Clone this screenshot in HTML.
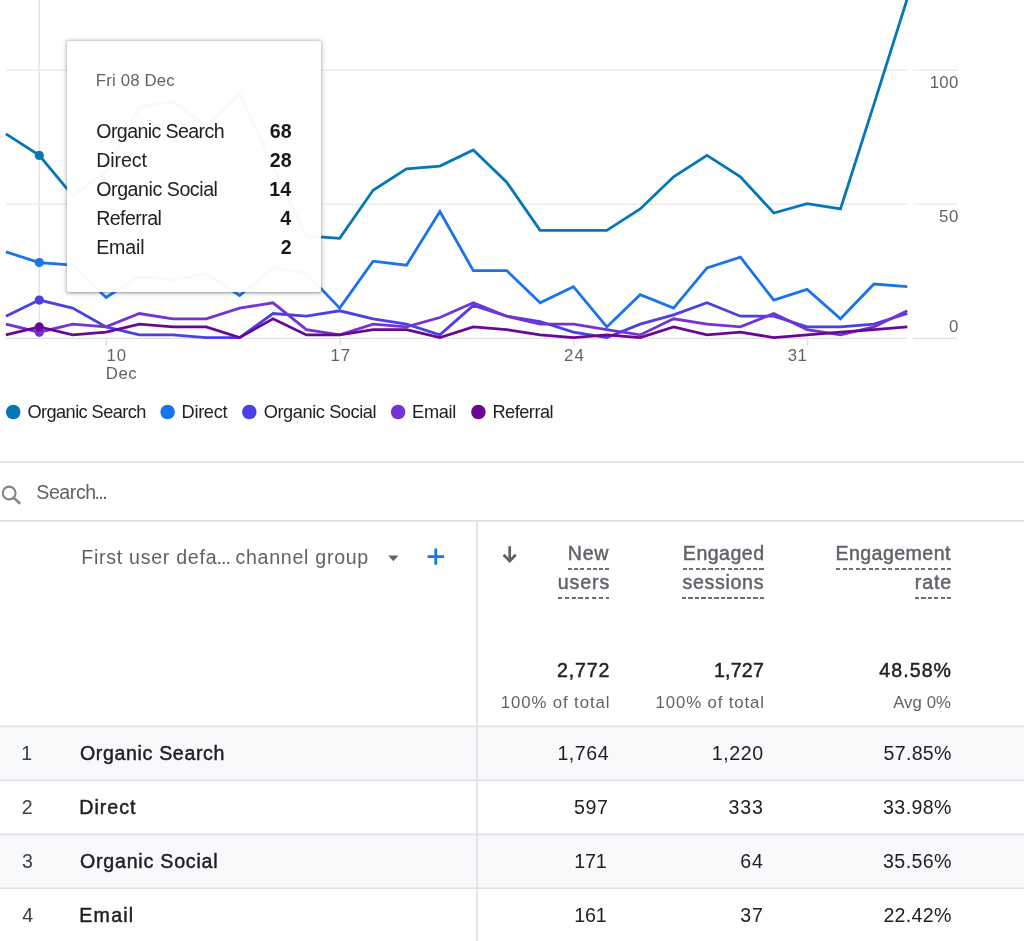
<!DOCTYPE html>
<html><head><meta charset="utf-8"><title>Report</title><style>
html,body{margin:0;padding:0;background:#fff;}
body{width:1024px;height:941px;position:relative;overflow:hidden;font-family:"Liberation Sans",sans-serif;}
#wrap{position:absolute;left:0;top:0;width:1024px;height:941px;will-change:transform;}
.t{position:absolute;white-space:nowrap;line-height:1;}
.chart{position:absolute;left:0;top:0;}
.tip{position:absolute;left:67px;top:40.5px;width:254px;height:251px;background:rgba(255,255,255,0.96);box-shadow:0 0.3px 2.6px 0 rgba(60,64,67,0.42),0 0.6px 4.6px 1.2px rgba(60,64,67,0.16);border-radius:2px;}
.dot{position:absolute;width:14.8px;height:14.8px;border-radius:50%;}
.hl{position:absolute;left:0;width:1024px;height:1.7px;background:#dfe1e6;}
.vl{position:absolute;left:476.25px;top:520px;width:1.7px;height:207px;background:#e1e3e8;}
.vl2{position:absolute;left:476.25px;top:726px;width:1.7px;height:215px;background:#e1e3e8;}
.row{position:absolute;left:0;width:1024px;height:54px;}
.dash{position:absolute;height:2px;}
</style></head><body>
<div id="wrap">
<svg class="chart" width="1024" height="400" viewBox="0 0 1024 400">
<line x1="39.3" y1="0" x2="39.3" y2="338" stroke="#e6e6ea" stroke-width="1.6"/>
<line x1="6" y1="70.2" x2="907.3" y2="70.2" stroke="#ebebee" stroke-width="1.4"/>
<line x1="913" y1="70.2" x2="957.3" y2="70.2" stroke="#ebebee" stroke-width="1.4"/>
<line x1="6" y1="204.2" x2="907.3" y2="204.2" stroke="#ebebee" stroke-width="1.4"/>
<line x1="913" y1="204.2" x2="957.3" y2="204.2" stroke="#ebebee" stroke-width="1.4"/>
<line x1="6" y1="338.4" x2="907.3" y2="338.4" stroke="#e0e0e0" stroke-width="1.4"/>
<line x1="913" y1="338.4" x2="957.3" y2="338.4" stroke="#e0e0e0" stroke-width="1.4"/>
<line x1="106.5" y1="338.4" x2="106.5" y2="345.6" stroke="#e0e0e0" stroke-width="1.4"/>
<line x1="340.2" y1="338.4" x2="340.2" y2="345.6" stroke="#e0e0e0" stroke-width="1.4"/>
<line x1="573.8" y1="338.4" x2="573.8" y2="345.6" stroke="#e0e0e0" stroke-width="1.4"/>
<line x1="807.6" y1="338.4" x2="807.6" y2="345.6" stroke="#e0e0e0" stroke-width="1.4"/>
<polyline points="5.9,133.9 39.3,155.4 72.7,195.6 106.1,171.4 139.4,107.1 172.8,101.8 206.2,125.9 239.6,93.7 273.0,166.1 306.4,235.8 339.7,238.4 373.1,190.2 406.5,168.8 439.9,166.1 473.3,150.0 506.7,182.2 540.1,230.4 573.4,230.4 606.8,230.4 640.2,209.0 673.6,176.8 707.0,155.4 740.4,176.8 773.8,213.0 807.1,203.6 840.5,209.0 873.9,104.4 907.3,-1.4" fill="none" stroke="#0477b6" stroke-width="2.8" stroke-linejoin="miter" stroke-linecap="butt"/>
<polyline points="5.9,251.8 39.3,262.6 72.7,265.2 106.1,297.4 139.4,276.0 172.8,280.0 206.2,273.3 239.6,295.5 273.0,267.9 306.4,273.3 339.7,308.1 373.1,261.2 406.5,265.2 439.9,211.6 473.3,270.6 506.7,270.6 540.1,302.8 573.4,286.7 606.8,326.9 640.2,294.7 673.6,308.1 707.0,267.9 740.4,257.2 773.8,300.1 807.1,289.4 840.5,318.8 873.9,284.0 907.3,286.7" fill="none" stroke="#1a73e8" stroke-width="2.8" stroke-linejoin="miter" stroke-linecap="butt"/>
<polyline points="5.9,316.2 39.3,300.1 72.7,308.1 106.1,326.9 139.4,334.9 172.8,334.9 206.2,337.6 239.6,337.6 273.0,313.5 306.4,316.2 339.7,310.8 373.1,318.8 406.5,324.2 439.9,334.9 473.3,305.4 506.7,316.2 540.1,321.5 573.4,332.2 606.8,337.6 640.2,324.2 673.6,314.8 707.0,302.8 740.4,316.2 773.8,316.2 807.1,326.9 840.5,326.9 873.9,324.2 907.3,313.5" fill="none" stroke="#4b40e6" stroke-width="2.8" stroke-linejoin="miter" stroke-linecap="butt"/>
<polyline points="5.9,324.2 39.3,332.2 72.7,324.2 106.1,326.9 139.4,313.5 172.8,318.8 206.2,318.8 239.6,308.1 273.0,302.8 306.4,329.6 339.7,334.9 373.1,324.2 406.5,326.9 439.9,317.5 473.3,302.8 506.7,316.2 540.1,324.2 573.4,324.2 606.8,329.6 640.2,334.9 673.6,318.8 707.0,324.2 740.4,326.9 773.8,313.5 807.1,329.6 840.5,334.9 873.9,326.9 907.3,310.8" fill="none" stroke="#7433d2" stroke-width="2.8" stroke-linejoin="miter" stroke-linecap="butt"/>
<polyline points="5.9,334.9 39.3,326.9 72.7,334.9 106.1,332.2 139.4,324.2 172.8,326.9 206.2,326.9 239.6,337.6 273.0,318.8 306.4,334.9 339.7,334.9 373.1,329.6 406.5,329.6 439.9,337.6 473.3,326.9 506.7,329.6 540.1,334.9 573.4,337.6 606.8,334.9 640.2,337.6 673.6,326.9 707.0,334.9 740.4,332.2 773.8,337.6 807.1,334.9 840.5,332.2 873.9,329.6 907.3,326.9" fill="none" stroke="#6a0893" stroke-width="2.8" stroke-linejoin="miter" stroke-linecap="butt"/>
<circle cx="39.3" cy="155.4" r="4.6" fill="#0477b6"/>
<circle cx="39.3" cy="262.6" r="4.6" fill="#1a73e8"/>
<circle cx="39.3" cy="300.1" r="4.6" fill="#4b40e6"/>
<circle cx="39.3" cy="332.2" r="4.6" fill="#7433d2"/>
<circle cx="39.3" cy="326.9" r="4.6" fill="#6a0893"/>
</svg>
<span class="t" style="left:929.72px;top:75px;font-size:16.8px;color:#5f6368;letter-spacing:0.246px;">100</span>
<span class="t" style="left:938.93px;top:209px;font-size:16.8px;color:#5f6368;letter-spacing:0.629px;">50</span>
<span class="t" style="left:948.90px;top:319px;font-size:16.8px;color:#5f6368;">0</span>
<span class="t" style="left:106.44px;top:348px;font-size:16.8px;color:#5f6368;letter-spacing:1.000px;">10</span>
<span class="t" style="left:105.82px;top:366px;font-size:16.8px;color:#5f6368;letter-spacing:0.472px;">Dec</span>
<span class="t" style="left:330.44px;top:348px;font-size:16.8px;color:#5f6368;letter-spacing:1.000px;">17</span>
<span class="t" style="left:564.08px;top:348px;font-size:16.8px;color:#5f6368;letter-spacing:1.000px;">24</span>
<span class="t" style="left:787.86px;top:348px;font-size:16.8px;color:#5f6368;letter-spacing:0.363px;">31</span>
<div class="tip"></div>
<span class="t" style="left:95.82px;top:73px;font-size:16.8px;color:#5f6368;letter-spacing:0.170px;">Fri 08 Dec</span>
<span class="t" style="left:96.28px;top:122px;font-size:19.6px;color:#202124;letter-spacing:-0.600px;">Organic Search</span>
<span class="t" style="left:269.79px;top:122px;font-size:19.6px;color:#17181b;font-weight:700;">68</span>
<span class="t" style="left:96.14px;top:151px;font-size:19.6px;color:#202124;letter-spacing:-0.070px;">Direct</span>
<span class="t" style="left:269.79px;top:151px;font-size:19.6px;color:#17181b;font-weight:700;">28</span>
<span class="t" style="left:96.28px;top:180px;font-size:19.6px;color:#202124;letter-spacing:-0.442px;">Organic Social</span>
<span class="t" style="left:269.30px;top:180px;font-size:19.6px;color:#17181b;font-weight:700;">14</span>
<span class="t" style="left:96.14px;top:209px;font-size:19.6px;color:#202124;letter-spacing:-0.559px;">Referral</span>
<span class="t" style="left:280.20px;top:209px;font-size:19.6px;color:#17181b;font-weight:700;">4</span>
<span class="t" style="left:96.14px;top:238px;font-size:19.6px;color:#202124;letter-spacing:-0.125px;">Email</span>
<span class="t" style="left:280.87px;top:238px;font-size:19.6px;color:#17181b;font-weight:700;">2</span>
<svg style="position:absolute;left:3px;top:402px" width="20" height="20" viewBox="0 0 20 20"><circle cx="10.20" cy="10" r="7.25" fill="#0477b6"/></svg>
<span class="t" style="left:27.44px;top:403px;font-size:18.2px;color:#202124;letter-spacing:-0.572px;">Organic Search</span>
<svg style="position:absolute;left:157px;top:402px" width="20" height="20" viewBox="0 0 20 20"><circle cx="10.60" cy="10" r="7.25" fill="#1a73e8"/></svg>
<span class="t" style="left:181.61px;top:403px;font-size:18.2px;color:#202124;letter-spacing:-0.324px;">Direct</span>
<svg style="position:absolute;left:239px;top:402px" width="20" height="20" viewBox="0 0 20 20"><circle cx="10.30" cy="10" r="7.25" fill="#4b40e6"/></svg>
<span class="t" style="left:263.74px;top:403px;font-size:18.2px;color:#202124;letter-spacing:-0.415px;">Organic Social</span>
<svg style="position:absolute;left:388px;top:402px" width="20" height="20" viewBox="0 0 20 20"><circle cx="10.10" cy="10" r="7.25" fill="#7433d2"/></svg>
<span class="t" style="left:412.11px;top:403px;font-size:18.2px;color:#202124;letter-spacing:-0.302px;">Email</span>
<svg style="position:absolute;left:468px;top:402px" width="20" height="20" viewBox="0 0 20 20"><circle cx="10.40" cy="10" r="7.25" fill="#6a0893"/></svg>
<span class="t" style="left:492.41px;top:403px;font-size:18.2px;color:#202124;letter-spacing:-0.492px;">Referral</span>
<svg style="position:absolute;left:0;top:482px" width="26" height="26" viewBox="0 0 26 26"><circle cx="9.15" cy="11" r="6.4" fill="none" stroke="#80868b" stroke-width="2.1"/><line x1="13.6" y1="15.6" x2="20.2" y2="21.8" stroke="#80868b" stroke-width="2.6" stroke-linecap="butt"/></svg>
<span class="t" style="left:36.22px;top:483px;font-size:19.6px;color:#5f6368;letter-spacing:-0.411px;">Search</span>
<span class="t" style="left:94.42px;top:483px;font-size:19.6px;color:#5f6368;letter-spacing:-1.490px;">...</span>
<span class="t" style="left:81.19px;top:548px;font-size:19.6px;color:#5f6368;letter-spacing:0.723px;">First user defa</span>
<span class="t" style="left:216.52px;top:548px;font-size:19.6px;color:#5f6368;letter-spacing:-0.940px;">...</span>
<span class="t" style="left:235.48px;top:548px;font-size:19.6px;color:#5f6368;letter-spacing:0.717px;">channel group</span>
<svg style="position:absolute;left:380px;top:540px" width="80" height="34" viewBox="380 540 80 34"><path d="M388.2 555.6 L398.5 555.6 L393.35 561.3 Z" fill="#5f6368"/><path d="M435.75 548.4 V564.8 M427.5 556.6 H444" stroke="#1a73e8" stroke-width="2.8" fill="none"/></svg>
<svg style="position:absolute;left:500px;top:544px" width="20" height="22" viewBox="0 0 20 22"><path d="M9.7 2.3 V17 M3.6 10.8 L9.7 17.0 L15.8 10.8" stroke="#5f6368" stroke-width="2.7" fill="none" stroke-linejoin="miter"/></svg>
<span class="t" style="left:567.87px;top:544px;font-size:19.6px;color:#5f6368;letter-spacing:0.694px;-webkit-text-stroke:0.45px #5f6368;">New</span>
<div class="dash" style="left:568.1px;width:41.2px;top:567.7px;background:repeating-linear-gradient(to right,#6b7075 0,#6b7075 4.1px,transparent 4.1px,transparent 6.183px)"></div>
<span class="t" style="left:557.63px;top:573px;font-size:19.6px;color:#5f6368;letter-spacing:0.919px;-webkit-text-stroke:0.45px #5f6368;">users</span>
<div class="dash" style="left:557.5px;width:51.8px;top:596.7px;background:repeating-linear-gradient(to right,#6b7075 0,#6b7075 4.1px,transparent 4.1px,transparent 6.814px)"></div>
<span class="t" style="left:682.87px;top:544px;font-size:19.6px;color:#5f6368;letter-spacing:0.454px;-webkit-text-stroke:0.45px #5f6368;">Engaged</span>
<div class="dash" style="left:683.1px;width:80.5px;top:567.7px;background:repeating-linear-gradient(to right,#6b7075 0,#6b7075 4.1px,transparent 4.1px,transparent 6.367px)"></div>
<span class="t" style="left:682.45px;top:573px;font-size:19.6px;color:#5f6368;letter-spacing:0.687px;-webkit-text-stroke:0.45px #5f6368;">sessions</span>
<div class="dash" style="left:681.6px;width:82.0px;top:596.7px;background:repeating-linear-gradient(to right,#6b7075 0,#6b7075 4.1px,transparent 4.1px,transparent 6.492px)"></div>
<span class="t" style="left:835.47px;top:544px;font-size:19.6px;color:#5f6368;letter-spacing:0.426px;-webkit-text-stroke:0.45px #5f6368;">Engagement</span>
<div class="dash" style="left:835.7px;width:115.4px;top:567.7px;background:repeating-linear-gradient(to right,#6b7075 0,#6b7075 4.1px,transparent 4.1px,transparent 6.547px)"></div>
<span class="t" style="left:914.79px;top:573px;font-size:19.6px;color:#5f6368;letter-spacing:0.875px;-webkit-text-stroke:0.45px #5f6368;">rate</span>
<div class="dash" style="left:914.7px;width:36.4px;top:596.7px;background:repeating-linear-gradient(to right,#6b7075 0,#6b7075 4.1px,transparent 4.1px,transparent 6.460px)"></div>
<span class="t" style="left:557.00px;top:661px;font-size:19.6px;color:#202124;letter-spacing:0.865px;-webkit-text-stroke:0.45px #202124;">2,772</span>
<span class="t" style="left:713.89px;top:661px;font-size:19.6px;color:#202124;letter-spacing:0.218px;-webkit-text-stroke:0.45px #202124;">1,727</span>
<span class="t" style="left:879.35px;top:661px;font-size:19.6px;color:#202124;letter-spacing:1.039px;-webkit-text-stroke:0.45px #202124;">48.58%</span>
<span class="t" style="left:500.72px;top:695px;font-size:16.8px;color:#5f6368;letter-spacing:0.894px;">100% of total</span>
<span class="t" style="left:655.52px;top:695px;font-size:16.8px;color:#5f6368;letter-spacing:0.877px;">100% of total</span>
<span class="t" style="left:893.17px;top:695px;font-size:16.8px;color:#5f6368;letter-spacing:0.066px;">Avg 0%</span>
<div class="row" style="top:726px;background:#f8f9fb"></div>
<span class="t" style="left:21.31px;top:744px;font-size:19.6px;color:#3c4043;">1</span>
<span class="t" style="left:79.96px;top:744px;font-size:19.6px;color:#202124;letter-spacing:0.641px;-webkit-text-stroke:0.45px #202124;">Organic Search</span>
<span class="t" style="left:557.41px;top:744px;font-size:19.6px;color:#202124;letter-spacing:0.555px;">1,764</span>
<span class="t" style="left:711.71px;top:744px;font-size:19.6px;color:#202124;letter-spacing:0.599px;">1,220</span>
<span class="t" style="left:883.62px;top:744px;font-size:19.6px;color:#202124;letter-spacing:0.281px;">57.85%</span>
<div class="row" style="top:780px;background:#fff"></div>
<span class="t" style="left:21.82px;top:798px;font-size:19.6px;color:#3c4043;">2</span>
<span class="t" style="left:79.27px;top:798px;font-size:19.6px;color:#202124;letter-spacing:0.998px;-webkit-text-stroke:0.45px #202124;">Direct</span>
<span class="t" style="left:574.12px;top:798px;font-size:19.6px;color:#202124;letter-spacing:0.486px;">597</span>
<span class="t" style="left:728.46px;top:798px;font-size:19.6px;color:#202124;letter-spacing:0.847px;">333</span>
<span class="t" style="left:883.06px;top:798px;font-size:19.6px;color:#202124;letter-spacing:0.393px;">33.98%</span>
<div class="row" style="top:834px;background:#f8f9fb"></div>
<span class="t" style="left:22.06px;top:852px;font-size:19.6px;color:#3c4043;">3</span>
<span class="t" style="left:79.96px;top:852px;font-size:19.6px;color:#202124;letter-spacing:0.784px;-webkit-text-stroke:0.45px #202124;">Organic Social</span>
<span class="t" style="left:574.31px;top:852px;font-size:19.6px;color:#202124;letter-spacing:-0.231px;">171</span>
<span class="t" style="left:740.15px;top:852px;font-size:19.6px;color:#202124;letter-spacing:1.000px;">64</span>
<span class="t" style="left:883.06px;top:852px;font-size:19.6px;color:#202124;letter-spacing:0.393px;">35.56%</span>
<div class="row" style="top:888px;background:#fff"></div>
<span class="t" style="left:22.37px;top:906px;font-size:19.6px;color:#3c4043;">4</span>
<span class="t" style="left:79.27px;top:906px;font-size:19.6px;color:#202124;letter-spacing:1.235px;-webkit-text-stroke:0.45px #202124;">Email</span>
<span class="t" style="left:574.31px;top:906px;font-size:19.6px;color:#202124;letter-spacing:-0.231px;">161</span>
<span class="t" style="left:740.36px;top:906px;font-size:19.6px;color:#202124;letter-spacing:0.830px;">37</span>
<span class="t" style="left:883.42px;top:906px;font-size:19.6px;color:#202124;letter-spacing:0.320px;">22.42%</span>
<svg style="position:absolute;left:0;top:440px" width="1024" height="501" viewBox="0 440 1024 501"><line x1="0" y1="461.9" x2="1024" y2="461.9" stroke="#dfe1e6" stroke-width="1.7"/><line x1="0" y1="520.8" x2="1024" y2="520.8" stroke="#dfe1e6" stroke-width="1.7"/><line x1="0" y1="726.3" x2="1024" y2="726.3" stroke="#dfe1e6" stroke-width="1.7"/><line x1="0" y1="780.3" x2="1024" y2="780.3" stroke="#dfe1e6" stroke-width="1.7"/><line x1="0" y1="834.3" x2="1024" y2="834.3" stroke="#dfe1e6" stroke-width="1.7"/><line x1="0" y1="888.25" x2="1024" y2="888.25" stroke="#dfe1e6" stroke-width="1.7"/><line x1="477.1" y1="521" x2="477.1" y2="941" stroke="#e1e3e8" stroke-width="1.8"/></svg>
</div>
</body></html>
